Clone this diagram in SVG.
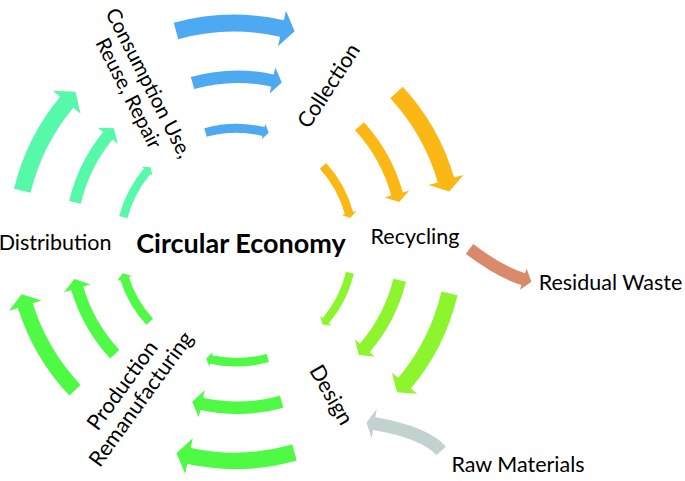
<svg xmlns="http://www.w3.org/2000/svg" width="685" height="481" viewBox="0 0 685 481">
<style>
.arr{fill:none;stroke-linecap:butt}
.blue{stroke:#4ea9f3}.orange{stroke:#fbb814}.lgreen{stroke:#8cf52e}.green{stroke:#4efa44}.mint{stroke:#56f9a9}.brown{stroke:#d88a6b}.gray{stroke:#c2d2ce}
.lbl{font-family:Lato,"Liberation Sans",sans-serif;font-size:21.5px;fill:#000}
.sm{font-size:20.5px}
.title{font-family:Lato,"Liberation Sans",sans-serif;font-size:27px;font-weight:bold;fill:#000}
</style>
<defs>
<marker id="h-blue" viewBox="-0.1 -1.3 1 2.6" refX="0" refY="0" markerWidth="1" markerHeight="2.6" orient="auto" markerUnits="strokeWidth"><path d="M-0.05,-0.5L0,-0.5L0,-1.07L0.76,0L0,1.07L0,0.5L-0.05,0.5Z" fill="#4ea9f3"/></marker>
<marker id="hs-blue" viewBox="-0.1 -1.3 1 2.6" refX="0" refY="0" markerWidth="1" markerHeight="2.6" orient="auto" markerUnits="strokeWidth"><path d="M-0.05,-0.5L0,-0.5L0,-0.88L0.6,0L0,0.88L0,0.5L-0.05,0.5Z" fill="#4ea9f3"/></marker>
<marker id="h-orange" viewBox="-0.1 -1.3 1 2.6" refX="0" refY="0" markerWidth="1" markerHeight="2.6" orient="auto" markerUnits="strokeWidth"><path d="M-0.05,-0.5L0,-0.5L0,-1.07L0.7,0L0,1.07L0,0.5L-0.05,0.5Z" fill="#fbb814"/></marker>
<marker id="hs-orange" viewBox="-0.1 -1.3 1 2.6" refX="0" refY="0" markerWidth="1" markerHeight="2.6" orient="auto" markerUnits="strokeWidth"><path d="M-0.05,-0.5L0,-0.5L0,-0.9L0.6,0L0,0.9L0,0.5L-0.05,0.5Z" fill="#fbb814"/></marker>
<marker id="h-lgreen" viewBox="-0.1 -1.3 1 2.6" refX="0" refY="0" markerWidth="1" markerHeight="2.6" orient="auto" markerUnits="strokeWidth"><path d="M-0.05,-0.5L0,-0.5L0,-1.0L0.7,0L0,1.0L0,0.5L-0.05,0.5Z" fill="#8cf52e"/></marker>
<marker id="hs-lgreen" viewBox="-0.1 -1.3 1 2.6" refX="0" refY="0" markerWidth="1" markerHeight="2.6" orient="auto" markerUnits="strokeWidth"><path d="M-0.05,-0.5L0,-0.5L0,-0.95L0.62,0L0,0.95L0,0.5L-0.05,0.5Z" fill="#8cf52e"/></marker>
<marker id="h-green" viewBox="-0.1 -1.3 1 2.6" refX="0" refY="0" markerWidth="1" markerHeight="2.6" orient="auto" markerUnits="strokeWidth"><path d="M-0.05,-0.5L0,-0.5L0,-1.1L0.78,0L0,1.1L0,0.5L-0.05,0.5Z" fill="#4efa44"/></marker>
<marker id="hs-green" viewBox="-0.1 -1.3 1 2.6" refX="0" refY="0" markerWidth="1" markerHeight="2.6" orient="auto" markerUnits="strokeWidth"><path d="M-0.05,-0.5L0,-0.5L0,-0.87L0.58,0L0,0.87L0,0.5L-0.05,0.5Z" fill="#4efa44"/></marker>
<marker id="h-mint" viewBox="-0.1 -1.3 1 2.6" refX="0" refY="0" markerWidth="1" markerHeight="2.6" orient="auto" markerUnits="strokeWidth"><path d="M-0.05,-0.5L0,-0.5L0,-1.06L0.8,0L0,1.06L0,0.5L-0.05,0.5Z" fill="#56f9a9"/></marker>
<marker id="hs-mint" viewBox="-0.1 -1.3 1 2.6" refX="0" refY="0" markerWidth="1" markerHeight="2.6" orient="auto" markerUnits="strokeWidth"><path d="M-0.05,-0.5L0,-0.5L0,-0.82L0.6,0L0,0.82L0,0.5L-0.05,0.5Z" fill="#56f9a9"/></marker>
<marker id="h-brown" viewBox="-0.1 -1.3 1 2.6" refX="0" refY="0" markerWidth="1" markerHeight="2.6" orient="auto" markerUnits="strokeWidth"><path d="M-0.05,-0.5L0,-0.5L0,-0.9L0.69,0L0,0.9L0,0.5L-0.05,0.5Z" fill="#d88a6b"/></marker>
<marker id="h-gray" viewBox="-0.1 -1.3 1 2.6" refX="0" refY="0" markerWidth="1" markerHeight="2.6" orient="auto" markerUnits="strokeWidth"><path d="M-0.05,-0.5L0,-0.5L0,-1.15L0.6,0L0,1.15L0,0.5L-0.05,0.5Z" fill="#c2d2ce"/></marker>
</defs>
<g id="connectors">
<path class="arr blue" stroke-width="17" marker-end="url(#h-blue)" d="M176,31 A219,219 0 0 1 282,28.5"/>
<path class="arr blue" stroke-width="12.5" marker-end="url(#h-blue)" d="M192.5,83 A166,166 0 0 1 272.5,80.5"/>
<path class="arr blue" stroke-width="9" marker-end="url(#hs-blue)" d="M205.5,132.5 A117,117 0 0 1 263.5,131.5"/>
<path class="arr orange" stroke-width="17" marker-end="url(#h-orange)" d="M396.5,92.5 A219,219 0 0 1 446,180"/>
<path class="arr orange" stroke-width="12" marker-end="url(#h-orange)" d="M359.5,126.3 A166,166 0 0 1 397,194"/>
<path class="arr orange" stroke-width="8.5" marker-end="url(#hs-orange)" d="M323,165.8 A117,117 0 0 1 349,213"/>
<path class="arr lgreen" stroke-width="16.5" marker-end="url(#h-lgreen)" d="M449.5,293.3 A219,219 0 0 1 404.5,383.3"/>
<path class="arr lgreen" stroke-width="13" marker-end="url(#h-lgreen)" d="M399.7,280.3 A166,166 0 0 1 364.8,348"/>
<path class="arr lgreen" stroke-width="8" marker-end="url(#hs-lgreen)" d="M350,272.8 A117,117 0 0 1 325.8,320.7"/>
<path class="arr green" stroke-width="16.5" marker-end="url(#h-green)" d="M294.5,452.5 A219,219 0 0 1 189,456"/>
<path class="arr green" stroke-width="12.5" marker-end="url(#h-green)" d="M281.7,401.7 A166,166 0 0 1 201.7,403.8"/>
<path class="arr green" stroke-width="8.5" marker-end="url(#hs-green)" d="M267.8,358 A117,117 0 0 1 211,359.5"/>
<path class="arr green" stroke-width="15.5" marker-end="url(#h-green)" d="M75,390.3 A219,219 0 0 1 25.3,305.7"/>
<path class="arr green" stroke-width="12.5" marker-end="url(#h-green)" d="M114.7,354.2 A166,166 0 0 1 77.2,288.3"/>
<path class="arr green" stroke-width="9" marker-end="url(#hs-green)" d="M149.7,321.8 A117,117 0 0 1 124.5,278.3"/>
<path class="arr mint" stroke-width="17" marker-end="url(#h-mint)" d="M22.3,190.8 A219,219 0 0 1 66.7,102.2"/>
<path class="arr mint" stroke-width="12" marker-end="url(#h-mint)" d="M75,202.3 A166,166 0 0 1 107.8,135.8"/>
<path class="arr mint" stroke-width="8.5" marker-end="url(#hs-mint)" d="M123.3,217.2 A117,117 0 0 1 147.2,171.2"/>
<path class="arr brown" stroke-width="12.3" marker-end="url(#h-brown)" d="M469.5,249 Q500,272 523.3,279.2"/>
<path class="arr gray" stroke-width="13" marker-end="url(#h-gray)" d="M441.2,450.8 Q424,432.2 374.2,423.7"/>
</g>
<g id="node-center"><text class="title" x="241" y="253" text-anchor="middle">Circular Economy</text></g>
<g id="node-consumption" transform="translate(139,88) rotate(63)"><text class="lbl sm" x="0" y="-4" text-anchor="middle">Consumption Use,</text><text class="lbl sm" x="0" y="18.5" text-anchor="middle">Reuse, Repair</text></g>
<g id="node-collection" transform="translate(329,86) rotate(-57)"><text class="lbl" x="0" y="7" text-anchor="middle">Collection</text></g>
<g id="node-recycling"><text class="lbl" x="415" y="244" text-anchor="middle">Recycling</text></g>
<g id="node-residual"><text class="lbl" x="610.5" y="290" text-anchor="middle">Residual Waste</text></g>
<g id="node-design" transform="translate(331,395) rotate(60)"><text class="lbl" x="0" y="7" text-anchor="middle">Design</text></g>
<g id="node-raw"><text class="lbl" x="518" y="472" text-anchor="middle">Raw Materials</text></g>
<g id="node-production" transform="translate(131.5,392) rotate(-54)"><text class="lbl" x="0" y="-4" text-anchor="middle">Production</text><text class="lbl" x="0" y="19" text-anchor="middle">Remanufacturing</text></g>
<g id="node-distribution"><text class="lbl" x="55" y="250" text-anchor="middle">Distribution</text></g>
</svg>
